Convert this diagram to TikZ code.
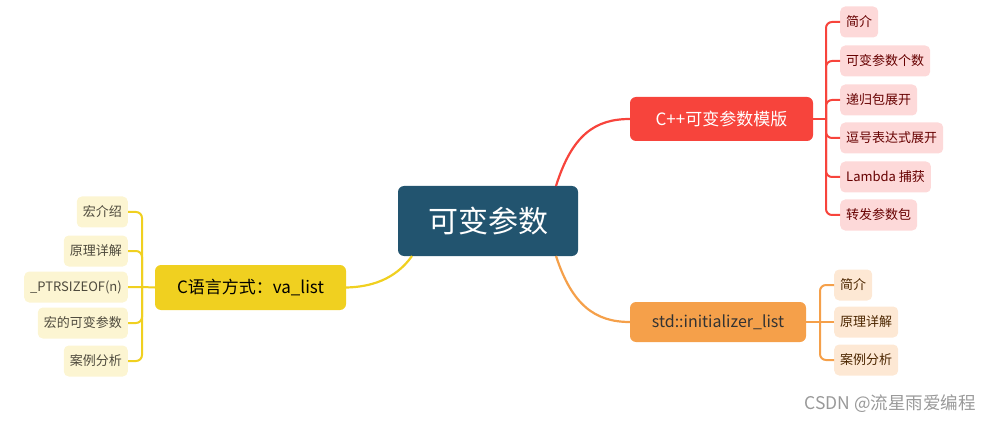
\documentclass[tikz,border=0pt]{standalone}
\usepackage{fontspec}
\setmainfont{Noto Sans CJK SC}
\begin{document}
\begin{tikzpicture}[x=1pt,y=-1pt,
  leaf/.style={rounded corners=5pt,minimum height=31pt,inner xsep=6pt,font=\fontsize{13}{13}\selectfont,anchor=#1},
  rleaf/.style={leaf=west,fill=rl,text=red!40!black},
  oleaf/.style={leaf=west,fill=ol,text=orange!30!black},
  yleaf/.style={leaf=east,fill=yl,text=yellow!20!black}]
\useasboundingbox (0,0) rectangle (1001,422);
\definecolor{cen}{HTML}{22546F}
\definecolor{cpp}{HTML}{F7443C}
\definecolor{stdc}{HTML}{F5A04A}
\definecolor{cc}{HTML}{F0D020}
\definecolor{rl}{HTML}{FDD9D9}
\definecolor{ol}{HTML}{FDE8D4}
\definecolor{yl}{HTML}{FCF5D2}
\node[fill=cen,text=white,rounded corners=6pt,minimum width=180pt,minimum height=70pt,font=\fontsize{30}{30}\selectfont] (c) at (488,221) {可变参数};
\node[fill=cpp,text=white,rounded corners=6pt,minimum width=183pt,minimum height=44pt,font=\fontsize{17}{17}\selectfont] (cpp) at (721.5,119) {C++可变参数模版};
\node[fill=stdc,text=black!80,rounded corners=6pt,minimum width=176pt,minimum height=40pt,font=\fontsize{16}{16}\selectfont] (std) at (718,322) {std::initializer\_list};
\node[fill=cc,text=black,rounded corners=6pt,minimum width=191pt,minimum height=45pt,font=\fontsize{17}{17}\selectfont] (cl) at (250.5,287.5) {C语言方式：va\_list};
\draw[cpp,line width=2.2pt] (556,186) .. controls (572,135) and (595,119) .. (cpp.west);
\draw[stdc,line width=2.2pt] (556,256) .. controls (572,305) and (595,322) .. (std.west);
\draw[cc,line width=2.2pt] (412,256) .. controls (395,280) and (370,287) .. (cl.east);
\foreach \t/\y [count=\i] in {简介/22,可变参数个数/61,递归包展开/100,逗号表达式展开/138,Lambda 捕获/177,转发参数包/215}
  \node[rleaf] (r\i) at (840,\y) {\t};
\foreach \t/\y [count=\i] in {简介/285,原理详解/322,案例分析/360}
  \node[oleaf] (o\i) at (834,\y) {\t};
\foreach \t/\y [count=\i] in {宏介绍/212,原理详解/251,\_PTRSIZEOF(n)/287,宏的可变参数/323,案例分析/361}
  \node[yleaf] (y\i) at (128,\y) {\t};
\draw[cpp,line width=2pt] (cpp.east) -- (826,119);
\draw[cpp,line width=2pt,rounded corners=6pt] (r1.west) -- (826,22) -- (826,215) -- (r6.west);
\foreach \i in {2,...,5} \draw[cpp,line width=2pt,rounded corners=6pt] (826,119) |- (r\i.west);
\draw[stdc,line width=2pt] (std.east) -- (820,322) -- (o2.west);
\draw[stdc,line width=2pt,rounded corners=6pt] (o1.west) -- (820,285) -- (820,360) -- (o3.west);
\draw[cc,line width=2pt] (cl.west) -- (142,287) -- (y3.east);
\draw[cc,line width=2pt,rounded corners=6pt] (y1.east) -- (142,212) -- (142,361) -- (y5.east);
\foreach \i in {2,4} \draw[cc,line width=2pt,rounded corners=6pt] (142,287) |- (y\i.east);
\node[text=black!40,font=\fontsize{17.5}{17.5}\selectfont] (wm) at (890,404) {CSDN @流星雨爱编程};
\end{tikzpicture}
\end{document}
